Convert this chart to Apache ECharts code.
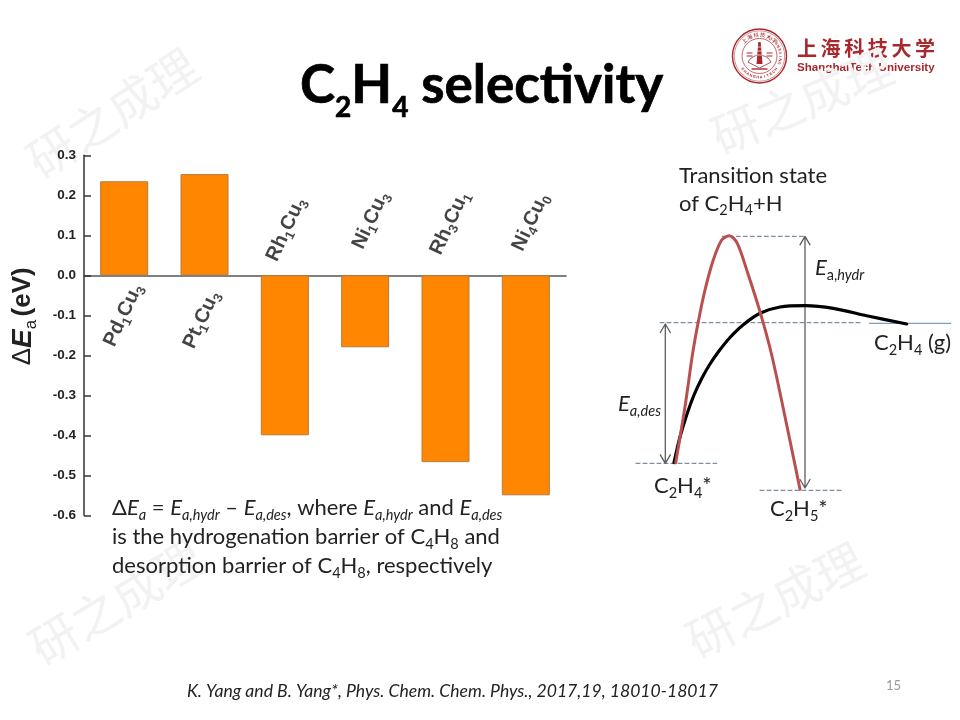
<!DOCTYPE html>
<html>
<head>
<meta charset="utf-8">
<style>html,body{margin:0;padding:0;background:#fff}#c{width:960px;height:720px}</style>
<script src="https://cdn.jsdelivr.net/npm/echarts@6/dist/echarts.min.js"></script>
</head>
<body>
<div id="c"></div>
<script>
// Bar chart values: change in activation energy per alloy
const alloys = ['Pd_1Cu_3', 'Pt_1Cu_3', 'Rh_1Cu_3', 'Ni_1Cu_3', 'Rh_3Cu_1', 'Ni_4Cu_0'];
const deltaEa = [0.235, 0.253, -0.40, -0.18, -0.467, -0.55];

// Energy profile curves: [reaction coordinate, energy]
const hydrogenationPath = [[75.7,67.3],[85,123.3],[92.7,177],[98.3,208.3],[105,240],[113.3,270],[121.7,290],[129.3,294.3],[137.3,286.7],[147.3,258.3],[160,218.3],[171.7,175],[185,113.3],[200,40.7]];
const desorptionPath = [[74,67.3],[80,93],[87,116],[94,135],[102,152],[110,166],[119,179],[130,192.5],[143,205],[160,216.7],[180,223],[205,224.3],[233.3,221.7],[266.7,214.3],[306.7,206]];

// Reference levels and barrier arrows on the energy profile
const levelTransition = [[122.3,293.7],[203.3,293.7]];
const levelGas = [[60,207.3],[260,207.3]];
const levelC2H4 = [[36,66.7],[116.7,66.7]];
const levelC2H5 = [[160,39.7],[241.7,39.7]];
const levelGasSolid = [[269.3,206.7],[350.7,206.7]];
const arrowHydr = [205, 293.7, 42];
const arrowDes = [65.3, 206, 66.7];

const BODY = 'Lato, "Open Sans", sans-serif';
const ARIAL = '"Liberation Sans", Arial, sans-serif';

// Converts "C_2H_4" style markup into rich-text subscript tags
const sub = s => s.replace(/_(\w)/g, '{s|$1}');

function richBody(size, lh) {
  return {
    n: {fontFamily: BODY, fontSize: size, color: '#222', lineHeight: lh},
    i: {fontFamily: BODY, fontSize: size, color: '#222', fontStyle: 'italic', lineHeight: lh},
    s: {fontFamily: BODY, fontSize: size * 0.66, color: '#222', verticalAlign: 'bottom', lineHeight: lh},
    si: {fontFamily: BODY, fontSize: size * 0.66, color: '#222', fontStyle: 'italic', verticalAlign: 'bottom', lineHeight: lh}
  };
}

function bodyText(x, y, text, size, lineHeight) {
  const lh = lineHeight || Math.round(size * 1.3);
  return {
    type: 'text', x, y, z: 20, silent: true,
    style: {text, rich: richBody(size, lh), fontFamily: BODY, fontSize: size, fill: '#222', align: 'left', verticalAlign: 'middle', lineHeight: lh}
  };
}

// Pale diagonal watermark
function watermark(x, y, deg, z) {
  return {
    type: 'text', x, y, z, silent: true, rotation: deg * Math.PI / 180,
    style: {text: '研之成理', font: '48px "Noto Sans CJK SC"', fill: '#f2f2f2', align: 'center', verticalAlign: 'middle'}
  };
}

// University seal built from rings, a tower and lettering set along the ring
function seal(cx, cy) {
  const red = '#a8282d';
  const out = [];
  [[27, 1.4], [25.2, 0.5], [17.5, 0.7]].forEach(([r, w]) => out.push({
    type: 'circle', z: 5, silent: true, shape: {cx, cy, r}, style: {fill: 'none', stroke: red, lineWidth: w}
  }));
  const put = (ch, deg, r, up) => {
    const a = deg * Math.PI / 180;
    out.push({
      type: 'text', z: 5, silent: true,
      x: cx + r * Math.sin(a), y: cy - r * Math.cos(a),
      rotation: up ? -a : Math.PI - a,
      style: {text: ch, font: up ? '5.5px "Noto Sans CJK SC"' : 'bold 3.8px "Liberation Sans"', fill: red, align: 'center', verticalAlign: 'middle'}
    });
  };
  [...'上海科技大学'].forEach((ch, i) => put(ch, -45 + i * 18, 21.3, true));
  [...'SHANGHAITECH UNIVERSITY'].forEach((ch, i) => put(ch, 232 - i * 9.4, 21.3, false));
  // tower mast and base
  out.push({type: 'polygon', z: 5, silent: true, shape: {points: [[cx-1.2,cy-14],[cx+1.2,cy-14],[cx+3,cy+8],[cx-3,cy+8]]}, style: {fill: red}});
  out.push({type: 'sector', z: 5, silent: true, shape: {cx, cy: cy+12, r0: 0, r: 13, startAngle: Math.PI*1.15, endAngle: Math.PI*1.85}, style: {fill: 'none', stroke: red, lineWidth: 0.8}});
  [-9,-5,-1].forEach(d => out.push({type: 'line', z: 5, silent: true, shape: {x1: cx-4, y1: cy+d, x2: cx+4, y2: cy+d}, style: {stroke: '#fff', lineWidth: 0.7}}));
  [[-10,-3],[-10,0],[10,-3],[10,0]].forEach(([dx,dy]) => out.push({type: 'line', z: 5, silent: true, shape: {x1: cx+dx-3, y1: cy+dy, x2: cx+dx+3, y2: cy+dy}, style: {stroke: red, lineWidth: 1}}));
  out.push({type: 'line', z: 5, silent: true, shape: {x1: cx-8, y1: cy+13, x2: cx+8, y2: cy+13}, style: {stroke: red, lineWidth: 1.4}});
  return out;
}

// Scatter anchors carrying the rotated alloy names beside the zero line
const labelRows = alloys.map((name, i) => ({
  value: [i, deltaEa[i] > 0 ? -0.095 : 0.108],
  label: {
    show: true, position: 'inside', rotate: 65,
    offset: [[-2, -7, 3, 13, 10, 11][i], 0],
    formatter: sub(name),
    fontFamily: ARIAL, fontWeight: 'bold', fontSize: 20, color: '#151515', lineHeight: 26,
    rich: {s: {fontFamily: ARIAL, fontSize: 13, color: '#151515', verticalAlign: 'bottom', lineHeight: 26}}
  }
}));

function plainLine(data, color, width, dashed) {
  return {
    type: 'line', xAxisIndex: 1, yAxisIndex: 1, data, showSymbol: false, silent: true, animation: false,
    lineStyle: {color, width, type: dashed ? [4, 3] : 'solid', cap: 'round'}, z: 3
  };
}

// Double-headed open arrow along a vertical barrier
function arrowLine([x, top, bottom]) {
  const w = 5, h = 8.5;
  return plainLine([
    [x-w, top-h], [x, top], [x+w, top-h], '-',
    [x, top], [x, bottom], '-',
    [x-w, bottom+h], [x, bottom], [x+w, bottom+h]
  ], '#5c5c5c', 1.3, false);
}

const titleInk = {textBorderColor: '#000', textBorderWidth: 0.7};

const option = {
  backgroundColor: '#fff',
  animation: false,
  title: {
    left: 295, top: 45,
    text: sub('C_2H_4') + ' selectivity',
    textStyle: {
      fontFamily: BODY, fontWeight: 'bold', fontSize: 53, color: '#000', lineHeight: 72, ...titleInk,
      rich: {s: {fontFamily: BODY, fontWeight: 'bold', fontSize: 28, color: '#000', verticalAlign: 'bottom', lineHeight: 72, ...titleInk}}
    }
  },
  grid: [
    {left: 84, width: 482, top: 155.3, height: 360, outerBoundsMode: 'none'},
    {left: 600, width: 360, top: 150, height: 380, outerBoundsMode: 'none'}
  ],
  xAxis: [
    {type: 'category', gridIndex: 0, data: alloys, axisTick: {show: false}, axisLabel: {show: false},
     axisLine: {onZero: true, lineStyle: {color: '#555', width: 1.6}}},
    {type: 'value', gridIndex: 1, min: 0, max: 360, show: false}
  ],
  yAxis: [
    {type: 'value', gridIndex: 0, min: -0.6, max: 0.3, interval: 0.1,
     axisLine: {show: true, lineStyle: {color: '#333', width: 1.5}},
     axisTick: {show: true, inside: true, length: 7, lineStyle: {color: '#333', width: 1.5}},
     splitLine: {show: false},
     axisLabel: {margin: 8, fontFamily: ARIAL, fontWeight: 'bold', fontSize: 13.5, color: '#222', formatter: v => v.toFixed(1)},
     name: '{d|Δ}{e|E}{a|a} {u|(eV)}',
     nameLocation: 'middle', nameRotate: 90, nameGap: 44,
     nameTextStyle: {
       padding: [0, 0, 0, 38],
       rich: {
         d: {fontFamily: ARIAL, fontSize: 26, color: '#222', lineHeight: 34},
         e: {fontFamily: ARIAL, fontSize: 28, fontWeight: 'bold', fontStyle: 'italic', color: '#222', lineHeight: 34},
         a: {fontFamily: ARIAL, fontSize: 17, color: '#222', verticalAlign: 'bottom', lineHeight: 34},
         u: {fontFamily: ARIAL, fontSize: 26, fontWeight: 'bold', color: '#222', lineHeight: 34}
       }
     }},
    {type: 'value', gridIndex: 1, min: 0, max: 380, show: false}
  ],
  series: [
    {type: 'bar', xAxisIndex: 0, yAxisIndex: 0, data: deltaEa, barWidth: 48,
     itemStyle: {color: '#ff8600', borderColor: '#b97a3a', borderWidth: 1}, silent: true, z: 2},
    {type: 'scatter', xAxisIndex: 0, yAxisIndex: 0, data: labelRows, symbolSize: 1, itemStyle: {color: 'transparent'}, silent: true, z: 4},
    plainLine(levelTransition, '#5f7390', 1, true),
    plainLine(levelGas, '#5f7390', 1, true),
    plainLine(levelC2H4, '#5f7390', 1, true),
    plainLine(levelC2H5, '#5f7390', 1, true),
    plainLine(levelGasSolid, '#5f86a8', 1, false),
    arrowLine(arrowHydr),
    arrowLine(arrowDes),
    Object.assign(plainLine(desorptionPath, '#000', 3.2, false), {smooth: 0.3, z: 5}),
    Object.assign(plainLine(hydrogenationPath, '#b9504f', 3, false), {smooth: 0.3, z: 6})
  ],
  graphic: [
    watermark(112, 113, 33, -1),
    watermark(116, 602, 31, -1),
    watermark(775, 600, 27, -1),
    ...seal(759.5, 56),
    ...[...'上海科技大学'].map((ch, i) => ({
      type: 'text', x: 807 + i * 23.6, y: 48, z: 5, silent: true,
      style: {text: ch, font: 'bold 20px "Noto Sans CJK SC"', fill: '#a8282d', align: 'center', verticalAlign: 'middle'}
    })),
    {type: 'text', x: 797, y: 68, z: 5, silent: true, style: {text: 'ShanghaiTech University', font: 'bold 11.6px "Liberation Sans"', fill: '#a8282d', align: 'left', verticalAlign: 'middle'}},
    watermark(802, 101, 23, 40),
    bodyText(112, 537, '{n|Δ}{i|E}{si|a}{n| = }{i|E}{si|a,hydr}{n| – }{i|E}{si|a,des}{n|, where }{i|E}{si|a,hydr}{n| and }{i|E}{si|a,des}\n{n|is the hydrogenation barrier of C}{s|4}{n|H}{s|8}{n| and}\n{n|desorption barrier of C}{s|4}{n|H}{s|8}{n|, respectively}', 22, 29),
    bodyText(679, 190, '{n|Transition state}\n{n|of C}{s|2}{n|H}{s|4}{n|+H}', 22, 28),
    bodyText(815, 268, '{i|E}{s|a,}{si|hydr}', 22),
    bodyText(618, 404, '{i|E}{si|a,des}', 22),
    bodyText(874, 343, '{n|C}{s|2}{n|H}{s|4}{n| (g)}', 22),
    bodyText(654, 486, '{n|C}{s|2}{n|H}{s|4}{n|*}', 22),
    bodyText(770, 509, '{n|C}{s|2}{n|H}{s|5}{n|*}', 22),
    {type: 'text', x: 187, y: 691, z: 20, silent: true, style: {text: 'K. Yang and B. Yang*, Phys. Chem. Chem. Phys., 2017,19, 18010-18017', font: 'italic 17.6px Lato', fill: '#222', align: 'left', verticalAlign: 'middle'}},
    {type: 'text', x: 886, y: 686, z: 20, silent: true, style: {text: '15', font: '13px Lato', fill: '#999', align: 'left', verticalAlign: 'middle'}}
  ]
};

const chart = echarts.init(document.getElementById('c'), null, {renderer: 'canvas'});
chart.setOption(option);
</script>
</body>
</html>
